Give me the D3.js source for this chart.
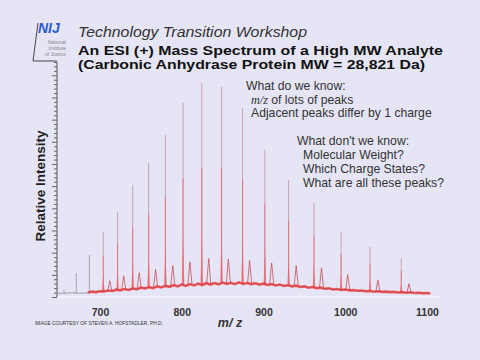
<!DOCTYPE html>
<html><head><meta charset="utf-8">
<script src="https://cdn.jsdelivr.net/npm/d3@7"></script>
<style>
html,body{margin:0;padding:0;background:#e5e5f5;}
svg{display:block;font-family:"Liberation Sans",Arial,sans-serif;}
</style></head>
<body>
<svg id="c" width="480" height="360"></svg>
<script>
// ---- data ----
const xTicks = [700, 800, 900, 1000, 1100];
// main charge-state peaks: m/z and relative intensity
const peakMz = [656, 671, 687, 704, 721.5, 740, 759.5, 780, 801.6, 824.5, 848.7, 874.4, 901.7, 930.7, 961.7, 994.9, 1030.3, 1068.5];
const peakInt = [3.2, 10.8, 18.9, 29.3, 38.3, 50.5, 60.4, 73.0, 87.4, 96.4, 94.6, 85.1, 66.2, 52.7, 42.3, 29.3, 22.5, 17.6];
// satellite (adduct) peaks
const satMz = [712, 729, 748, 768, 789, 810, 833, 857, 883, 910, 940, 971, 1003, 1040, 1078];
const satInt = [4.5, 6, 7, 8, 9, 10, 11.5, 11, 10.5, 9.5, 9, 9, 7, 5, 4];
// low-mass grey baseline
const greyBase = [[645, 1.8], [655, 1.7], [665, 1.9], [675, 1.7], [686, 1.9]];
// noisy chemical-noise baseline (red)
const redBase = [[685,2.0],[690,2.4],[695,2.2],[700,2.6],[705,2.5],[710,2.9],[715,2.7],[720,3.3],[725,3.0],[730,3.6],[735,3.2],[740,3.8],[745,3.5],[750,4.2],[755,3.9],[760,4.4],[765,4.0],[770,4.8],[775,4.3],[780,5.0],[785,4.6],[790,5.3],[795,4.8],[800,5.6],[805,5.0],[810,5.8],[815,5.2],[820,6.0],[825,5.4],[830,6.2],[835,5.6],[840,6.3],[845,5.7],[850,6.5],[855,5.9],[860,6.4],[865,5.8],[870,6.6],[875,5.9],[880,6.3],[885,5.8],[890,6.2],[895,5.6],[900,6.0],[905,5.4],[910,5.8],[915,5.2],[920,5.6],[925,5.0],[930,5.3],[935,4.8],[940,5.1],[945,4.5],[950,4.8],[955,4.2],[960,4.5],[965,4.0],[970,4.2],[975,3.7],[980,3.9],[985,3.4],[990,3.6],[995,3.2],[1000,3.4],[1005,3.0],[1010,3.1],[1015,2.8],[1020,2.9],[1025,2.6],[1030,2.7],[1035,2.4],[1040,2.6],[1045,2.3],[1050,2.4],[1055,2.2],[1060,2.3],[1065,2.0],[1070,2.2],[1075,1.9],[1080,2.1],[1085,1.8],[1090,1.9],[1095,1.7],[1100,1.8],[1104,1.6]];
const knowLines = ["What do we know:", "of lots of peaks", "Adjacent peaks differ by 1 charge"];
const dontLines = ["What don't we know:", "Molecular Weight?", "Which Charge States?", "What are all these peaks?"];

// ---- drawing ----
const svg = d3.select("#c");
svg.append("rect").attr("width",480).attr("height",360).attr("fill","#e5e5f5");

const x = d3.scaleLinear().domain([700,1100]).range([100,427]);
const y = d3.scaleLinear().domain([0,100]).range([297,75]);

const allBase = greyBase.concat(redBase).sort((a,b)=>a[0]-b[0]);
function baseAt(m){
  for(let i=0;i<allBase.length-1;i++){
    if(m>=allBase[i][0] && m<=allBase[i+1][0]){
      const t=(m-allBase[i][0])/(allBase[i+1][0]-allBase[i][0]);
      return allBase[i][1]+t*(allBase[i+1][1]-allBase[i][1]);
    }
  }
  return allBase[allBase.length-1][1];
}

// x axis (light line, bold labels)
const xAxis = svg.append("g").attr("transform","translate(0,297)")
  .call(d3.axisBottom(x).tickValues(xTicks).tickSize(0).tickFormat(d3.format("d")));
xAxis.select(".domain").attr("d","M57,0H440").attr("stroke","#f4f4fc").attr("stroke-width",1.5);
xAxis.selectAll("text").attr("y",19).attr("dy",0)
  .style("font-family","'Liberation Sans',Arial,sans-serif")
  .style("font-size","10.5px").style("font-weight","bold").attr("fill","#333");

// y axis with dense ticks
const yt = d3.scaleLinear().domain([0,53]).range([297,62]);
const yAxis = svg.append("g").attr("transform","translate(57,0)")
  .call(d3.axisLeft(yt).tickValues(d3.range(0,54)).tickSize(3).tickFormat(""));
yAxis.select(".domain").attr("stroke","#555").attr("d","M0,62V297");
yAxis.selectAll(".tick line").attr("stroke","#666")
  .attr("x2",(d)=> d%5===0 ? -5 : -3);

const line = d3.line().x(d=>x(d[0])).y(d=>y(d[1]));
svg.append("path").datum(greyBase).attr("d",line)
  .attr("fill","none").attr("stroke","#9a9aa8").attr("stroke-width",1);

// main peaks: thin line
const pk = svg.append("g");
pk.selectAll("line.tall").data(peakMz).join("line").attr("class","tall")
  .attr("x1",m=>x(m)).attr("x2",m=>x(m))
  .attr("y1",m=>y(baseAt(m))).attr("y2",(m,i)=>y(peakInt[i]))
  .attr("stroke",(m)=> m<700 ? "#a8a0b0" : "#c9a3b3").attr("stroke-width",1);
// red broadened lower part of the peaks
pk.selectAll("path.base").data(peakMz).join("path").attr("class","base")
  .attr("d",(m,i)=>{const b=baseAt(m);const h=b+peakInt[i]*0.25;return `M${x(m-1.6)},${y(b)}L${x(m)},${y(h)}L${x(m+1.6)},${y(b)}Z`;})
  .attr("fill",(m)=> m<700 ? "none" : "#f06a72").attr("opacity",0.75);
pk.selectAll("line.red").data(peakMz.filter(m=>m>=700)).join("line").attr("class","red")
  .attr("x1",m=>x(m)).attr("x2",m=>x(m))
  .attr("y1",m=>y(baseAt(m))).attr("y2",(m)=>y(baseAt(m)+peakInt[peakMz.indexOf(m)]*0.55))
  .attr("stroke","#ee5a64").attr("stroke-width",0.9).attr("opacity",0.7);

// satellite peaks
svg.append("g").selectAll("path").data(satMz).join("path")
  .attr("d",(m,i)=>{const b=baseAt(m);return `M${x(m-2.5)},${y(b)}L${x(m)},${y(b+satInt[i])}L${x(m+2.5)},${y(b)}`;})
  .attr("fill","none").attr("stroke","#c8505a").attr("stroke-width",1).attr("opacity",0.8);

// red noisy baseline
svg.append("path").datum(redBase).attr("d",line)
  .attr("fill","none").attr("stroke","#ee4444").attr("stroke-width",2.6).attr("opacity",0.85);
svg.append("path").datum(redBase).attr("d",line)
  .attr("fill","none").attr("stroke","#a8303a").attr("stroke-width",0.8).attr("opacity",0.6);

// title block
svg.append("text").attr("x",78).attr("y",37).text("Technology Transition Workshop")
  .attr("font-size",15).attr("font-style","italic").attr("fill","#333")
  .attr("textLength",229).attr("lengthAdjust","spacingAndGlyphs");
svg.append("text").attr("x",78).attr("y",54.5).text("An ESI (+) Mass Spectrum of a High MW Analyte")
  .attr("font-size",13).attr("font-weight","bold").attr("fill","#111")
  .attr("textLength",365).attr("lengthAdjust","spacingAndGlyphs");
svg.append("text").attr("x",78).attr("y",69).text("(Carbonic Anhydrase Protein MW = 28,821 Da)")
  .attr("font-size",13).attr("font-weight","bold").attr("fill","#111")
  .attr("textLength",347).attr("lengthAdjust","spacingAndGlyphs");

// logo
const logo = svg.append("g");
logo.append("text").attr("x",38).attr("y",33).text("NIJ")
  .attr("font-size",14).attr("font-weight","bold").attr("font-style","italic").attr("fill","#2a5bd0");
logo.append("path").attr("d","M38,23L33,61H57").attr("fill","none").attr("stroke","#444").attr("stroke-width",1);
[["National",44],["Institute",50],["of Justice",56]].forEach(([t,yy])=>{
  logo.append("text").attr("x",66).attr("y",yy).text(t).attr("text-anchor","end")
    .attr("font-size",5).attr("fill","#888");
});

// annotations
const ann = svg.append("g").attr("fill","#333").attr("font-size",12.2);
ann.append("text").attr("x",246).attr("y",90).text(knowLines[0]);
const t2 = ann.append("text").attr("x",251).attr("y",104);
t2.append("tspan").attr("font-family","'Liberation Serif','Times New Roman',serif").attr("font-style","italic").text("m/z");
t2.append("tspan").text(" " + knowLines[1]);
ann.append("text").attr("x",251).attr("y",117).text(knowLines[2]);
ann.append("text").attr("x",297).attr("y",145).text(dontLines[0]);
ann.append("text").attr("x",303).attr("y",159).text(dontLines[1]);
ann.append("text").attr("x",303).attr("y",173).text(dontLines[2]);
ann.append("text").attr("x",303).attr("y",187).text(dontLines[3]);

// axis titles
svg.append("text").attr("transform","translate(45,186) rotate(-90)").attr("text-anchor","middle")
  .text("Relative Intensity").attr("font-size",13.5).attr("font-weight","bold").attr("fill","#222");
svg.append("text").attr("x",230).attr("y",327).attr("text-anchor","middle")
  .text("m/ z").attr("font-size",12.5).attr("font-style","italic").attr("font-weight","bold").attr("fill","#333");

// credit
svg.append("text").attr("x",35).attr("y",325).text("IMAGE COURTESY OF STEVEN A. HOFSTADLER, PH.D.")
  .attr("font-size",4.6).attr("fill","#333").attr("textLength",128).attr("lengthAdjust","spacingAndGlyphs");
</script>
</body></html>
